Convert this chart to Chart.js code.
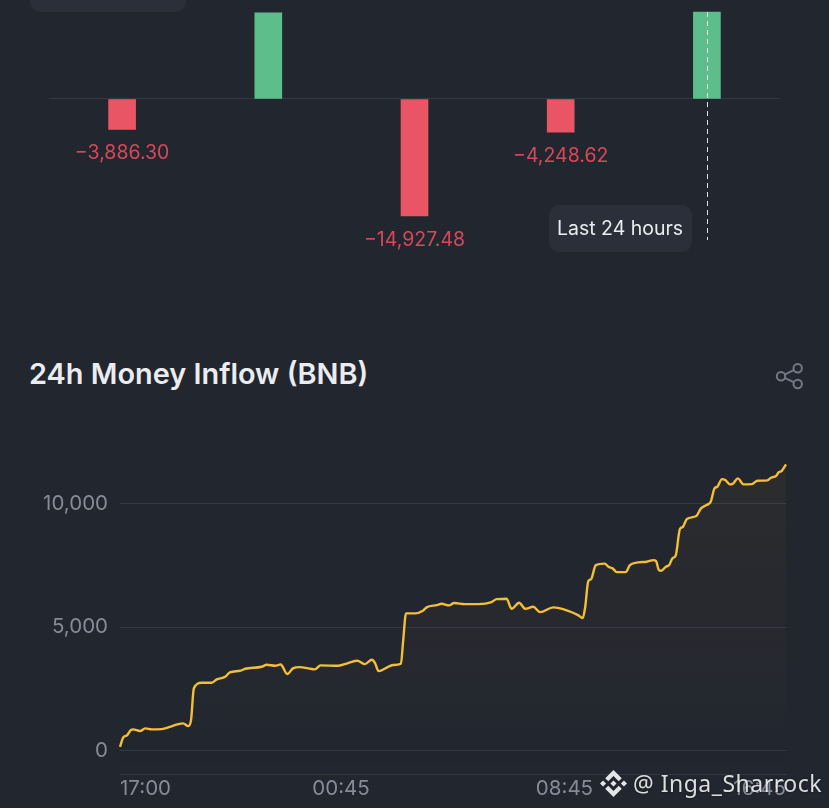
<!DOCTYPE html>
<html>
<head>
<meta charset="utf-8">
<title>24h Money Inflow (BNB)</title>
<script src="https://cdn.jsdelivr.net/npm/chart.js@4/dist/chart.umd.min.js"></script>
<style>
  html, body { margin: 0; padding: 0; background: #21262f; }
  #page { position: relative; width: 829px; height: 808px; overflow: hidden; background: #21262f; font-family: Inter, sans-serif; }
  .box { position: absolute; left: 0; width: 829px; }
  #pill { position: absolute; left: 30px; top: -30px; width: 156px; height: 42px; border-radius: 10px; background: #2b2f3a; }
  #title { position: absolute; left: 29px; top: 356px; font: 600 28.9px Inter, sans-serif; color: #eaecef; white-space: nowrap; }
  #share { position: absolute; left: 770px; top: 358px; }
  #mark { position: absolute; left: 600px; top: 767px; display: flex; align-items: center; color: rgba(255,255,255,.85); font: 23px "Noto Sans", sans-serif; letter-spacing: .5px; text-shadow: 0 0 2px rgba(0,0,0,.6); white-space: nowrap; }
  #mark svg { margin-right: 6px; }
</style>
</head>
<body>
<div id="page">
  <div id="pill"></div>
  <div class="box" style="top:0;height:260px"><canvas id="flows"></canvas></div>
  <div id="title">24h Money Inflow (BNB)</div>
  <svg id="share" width="40" height="36" viewBox="0 0 40 36" fill="none" stroke="#737a86" stroke-width="2">
    <circle cx="27.7" cy="10.3" r="4.2"/><circle cx="11" cy="18.3" r="4.2"/><circle cx="27.7" cy="26" r="4.2"/>
    <path d="M15 16.4l8.8-4.2M15 20.2l8.8 4"/>
  </svg>
  <div class="box" style="top:440px;height:368px"><canvas id="inflow"></canvas></div>
  <div id="mark">
    <svg width="27" height="27" viewBox="0 0 24 24" fill="#e4e5e8"><path d="M16.624 13.9202l2.7175 2.7154-7.353 7.353-7.353-7.352 2.7175-2.7164 4.6355 4.6595 4.6356-4.6595zm4.6366-4.6366L24 12l-2.7154 2.7164L18.5682 12l2.6924-2.7164zm-9.272.001l2.7163 2.6914-2.7164 2.7174v-.001L9.2721 12l2.7164-2.7154zm-9.2722-.001L5.4088 12l-2.6914 2.6924L0 12l2.7164-2.7164zM11.9885.0115l7.353 7.329-2.7174 2.7154-4.6356-4.6356-4.6355 4.6595-2.7174-2.7154 7.353-7.353z"/></svg>
    <span>@ Inga_Sharrock</span>
  </div>
</div>
<script>
// top chart: money flow per period
const periods = ['Day 1', 'Day 2', 'Day 3', 'Day 4', 'Last 24 hours'];
const flowValues = [-3886.30, 11000, -14927.48, -4248.62, 11100];
const flowLabels = ['\u22123,886.30', '', '\u221214,927.48', '\u22124,248.62', ''];

// bottom chart: minutes after 17:00 and cumulative inflow (BNB)
const minutes = [0, 7, 15, 23, 28, 43, 54, 68, 89, 107, 125, 135, 146, 152, 158, 175, 196, 207, 225, 235, 257, 268, 303, 314, 332, 344, 348, 358, 370, 385, 403, 417, 429, 467, 488, 508, 524, 539, 546, 553, 574, 585, 601, 606, 612, 631, 649, 656, 678, 688, 704, 715, 738, 767, 795, 806, 827, 838, 854, 867, 884, 899, 927, 959, 980, 990, 995, 1002, 1008, 1018, 1037, 1045, 1054, 1063, 1082, 1091, 1109, 1127, 1141, 1147, 1153, 1158, 1168, 1175, 1182, 1189, 1198, 1204, 1213, 1233, 1243, 1255, 1264, 1272, 1278, 1288, 1295, 1305, 1312, 1322, 1334, 1352, 1364, 1385, 1393, 1404, 1409, 1416, 1425];
const inflow = [166, 546, 627, 841, 870, 801, 910, 870, 882, 975, 1084, 1112, 1003, 1246, 2528, 2755, 2755, 2892, 2997, 3175, 3240, 3321, 3402, 3483, 3442, 3499, 3402, 3107, 3337, 3390, 3337, 3297, 3458, 3442, 3551, 3645, 3511, 3685, 3539, 3228, 3402, 3471, 3523, 4482, 5562, 5562, 5683, 5805, 5898, 5950, 5885, 5979, 5938, 5938, 6019, 6140, 6152, 5748, 5991, 5748, 5829, 5614, 5805, 5667, 5493, 5372, 5776, 6868, 6949, 7516, 7576, 7447, 7382, 7232, 7232, 7516, 7625, 7649, 7718, 7677, 7313, 7285, 7447, 7516, 7787, 7900, 8972, 9053, 9384, 9498, 9809, 9943, 10076, 10618, 10683, 10994, 10954, 10780, 10820, 11023, 10780, 10792, 10926, 10942, 11047, 11128, 11265, 11330, 11589];
const yTicks = [0, 5000, 10000];
const xTicks = [0, 473, 951, 1425];
const xTickLabels = ['17:00', '00:45', '08:45', '16:45'];

const GREY = '#858c98';
const GRID = '#333843';
const RED = '#d8485a';

Chart.defaults.animation = false;
Chart.defaults.font.family = 'Inter, sans-serif';

// value labels under the red bars, dashed marker and tag on the last period
const flowDecor = {
    id: 'flowDecor',
    afterDatasetsDraw(chart) {
        const { ctx } = chart;
        const x = chart.scales.x;
        const y = chart.scales.y;

        ctx.save();
        ctx.font = '19.5px Inter, sans-serif';
        ctx.fillStyle = RED;
        ctx.textAlign = 'center';
        ctx.textBaseline = 'middle';
        flowValues.forEach((v, i) => {
            if (flowLabels[i]) ctx.fillText(flowLabels[i], x.getPixelForValue(i), y.getPixelForValue(v) + 24);
        });

        const last = periods.length - 1;
        const lx = Math.round(x.getPixelForValue(last)) + 0.5;
        ctx.strokeStyle = '#dfe2e6';
        ctx.lineWidth = 1;
        ctx.setLineDash([5, 4]);
        ctx.beginPath();
        ctx.moveTo(lx, y.getPixelForValue(flowValues[last]));
        ctx.lineTo(lx, 240);
        ctx.stroke();
        ctx.setLineDash([]);

        ctx.fillStyle = '#2b2f3a';
        ctx.beginPath();
        ctx.roundRect(lx - 158.5, 205, 143, 47, 10);
        ctx.fill();
        ctx.fillStyle = '#eaecef';
        ctx.fillText(periods[last], lx - 87.5, 229);
        ctx.restore();
    },
};

new Chart(document.getElementById('flows'), {
    type: 'bar',
    data: {
        labels: periods,
        datasets: [{
            data: flowValues,
            backgroundColor: flowValues.map(v => (v < 0 ? '#e95564' : '#5dbe8c')),
            barThickness: 27,
        }],
    },
    options: {
        responsive: true,
        maintainAspectRatio: false,
        layout: { padding: { left: 49, right: 49, top: 0, bottom: 0 } },
        plugins: { legend: { display: false }, tooltip: { enabled: false } },
        scales: {
            x: { display: false },
            y: {
                min: -20544,
                max: 12632,
                afterBuildTicks: s => { s.ticks = [{ value: 0 }]; },
                afterFit: s => { s.width = 0; },
                ticks: { display: false },
                border: { display: false },
                grid: { color: GRID, drawTicks: false },
            },
        },
    },
    plugins: [flowDecor],
});

new Chart(document.getElementById('inflow'), {
    type: 'line',
    data: {
        datasets: [{
            data: minutes.map((m, i) => ({ x: m, y: inflow[i] })),
            borderColor: '#f2bf35',
            borderWidth: 2.4,
            pointRadius: 0,
            cubicInterpolationMode: 'monotone',
            clip: 4,
            fill: 'start',
            backgroundColor: ctx => {
                const area = ctx.chart.chartArea;
                if (!area) return 'transparent';
                const g = ctx.chart.ctx.createLinearGradient(0, area.top + 24, 0, area.bottom);
                g.addColorStop(0, 'rgba(240,150,40,0.055)');
                g.addColorStop(0.5, 'rgba(240,150,40,0.03)');
                g.addColorStop(1, 'rgba(240,150,40,0)');
                return g;
            },
        }],
    },
    options: {
        responsive: true,
        maintainAspectRatio: false,
        layout: { padding: { left: 0, right: 43, top: 0, bottom: 0 } },
        plugins: { legend: { display: false }, tooltip: { enabled: false } },
        scales: {
            x: {
                type: 'linear',
                min: 0,
                max: 1425,
                afterBuildTicks: s => { s.ticks = xTicks.map(v => ({ value: v })); },
                afterFit: s => { s.height = 34; s.paddingLeft = 0; s.paddingRight = 0; },
                ticks: {
                    callback: v => xTickLabels[xTicks.indexOf(v)],
                    align: 'inner',
                    color: GREY,
                    font: { size: 20.5 },
                    padding: 3,
                    maxRotation: 0,
                    autoSkip: false,
                },
                grid: { display: false, drawTicks: false },
                border: { color: GRID },
            },
            y: {
                min: -935,
                max: 12575,
                afterBuildTicks: s => { s.ticks = yTicks.map(v => ({ value: v })); },
                afterFit: s => { s.width = 120; s.paddingTop = 0; s.paddingBottom = 0; },
                ticks: {
                    callback: v => v.toLocaleString('en-US'),
                    color: GREY,
                    font: { size: 20.5 },
                    padding: 12,
                },
                grid: { color: GRID, drawTicks: false },
                border: { display: false },
            },
        },
    },
});
</script>
</body>
</html>
